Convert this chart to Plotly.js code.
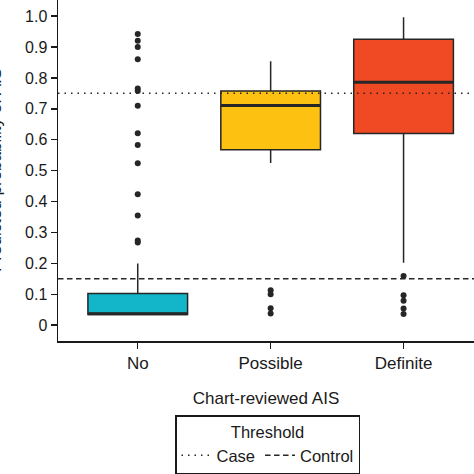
<!DOCTYPE html>
<html>
<head>
<meta charset="utf-8">
<script src="https://cdn.plot.ly/plotly-3.0.1.min.js"></script>
<style>
  html, body { margin: 0; padding: 0; background: #ffffff; }
  #chart { width: 474px; height: 474px; }
</style>
</head>
<body>
<div id="chart"></div>
<script>
// Chart-reviewed AIS groups
const categories = ['No', 'Possible', 'Definite'];

// Box summary statistics per group
const q1Values     = [0.035, 0.568, 0.620];
const medianValues = [0.037, 0.711, 0.786];
const q3Values     = [0.103, 0.758, 0.925];
const lowerFences  = [0.033, 0.525, 0.202];
const upperFences  = [0.200, 0.854, 0.996];

// Outlying predictions per group
const outliersNo       = [0.942, 0.920, 0.900, 0.860, 0.766, 0.758, 0.710, 0.621, 0.583, 0.524, 0.424, 0.355, 0.274, 0.268];
const outliersPossible = [0.113, 0.100, 0.055, 0.038];
const outliersDefinite = [0.159, 0.097, 0.079, 0.054, 0.036];

// Probability thresholds
const caseThreshold    = 0.75;
const controlThreshold = 0.15;

// Y-axis ticks
const yTickValues = [0, 0.1, 0.2, 0.3, 0.4, 0.5, 0.6, 0.7, 0.8, 0.9, 1.0];
const yTickLabels = ['0', '0.1', '0.2', '0.3', '0.4', '0.5', '0.6', '0.7', '0.8', '0.9', '1.0'];

const boxColors = ['#13b5c9', '#fdc111', '#ef4a23'];
const ink = '#262626';
const boxWidth = 0.75;
const FONT = 'Liberation Sans, Arial, sans-serif';
const TXT = '#1a1a1a';

const traces = [];

categories.forEach((cat, i) => {
  traces.push({
    type: 'box',
    x: [i],
    q1: [q1Values[i]],
    median: [medianValues[i]],
    q3: [q3Values[i]],
    lowerfence: [lowerFences[i]],
    upperfence: [upperFences[i]],
    width: boxWidth,
    whiskerwidth: 0,
    boxpoints: false,
    fillcolor: boxColors[i],
    line: { color: ink, width: 1.5 },
    showlegend: false,
    hoverinfo: 'skip'
  });
  // heavier median bar
  traces.push({
    type: 'scatter',
    mode: 'lines',
    x: [i - boxWidth / 2, i + boxWidth / 2],
    y: [medianValues[i], medianValues[i]],
    line: { color: ink, width: 3 },
    showlegend: false,
    hoverinfo: 'skip'
  });
});

const outlierGroups = [outliersNo, outliersPossible, outliersDefinite];
outlierGroups.forEach((vals, i) => {
  traces.push({
    type: 'scatter',
    mode: 'markers',
    x: vals.map(() => i),
    y: vals,
    marker: { color: ink, size: 6 },
    showlegend: false,
    hoverinfo: 'skip'
  });
});

const layout = {
  width: 474,
  height: 474,
  margin: { l: 58, r: 0, t: 0, b: 133, autoexpand: false },
  paper_bgcolor: '#ffffff',
  plot_bgcolor: '#ffffff',
  font: { family: FONT, color: TXT, size: 16 },
  xaxis: {
    range: [-0.6, 2.53],
    tickvals: [0, 1, 2],
    ticktext: categories,
    showgrid: false,
    zeroline: false,
    showline: true,
    linecolor: TXT,
    linewidth: 1.5,
    ticks: 'outside',
    ticklen: 6,
    tickwidth: 1.5,
    tickcolor: TXT,
    tickfont: { size: 17, family: FONT, color: TXT },
    title: { text: 'Chart-reviewed AIS', font: { size: 17, family: FONT, color: TXT }, standoff: 20 }
  },
  yaxis: {
    range: [-0.051, 1.052],
    tickvals: yTickValues,
    ticktext: yTickLabels,
    showgrid: false,
    zeroline: false,
    showline: true,
    linecolor: TXT,
    linewidth: 1.5,
    ticks: 'outside',
    ticklen: 6,
    tickwidth: 1.5,
    tickcolor: TXT,
    tickfont: { size: 16, family: FONT, color: TXT }
  },
  annotations: [{
    text: 'Predicted probability of AIS',
    xref: 'paper', yref: 'paper',
    x: (7 - 58) / 416, y: 0.5,
    xanchor: 'right', yanchor: 'middle',
    textangle: -90,
    showarrow: false,
    font: { size: 17, family: FONT, color: TXT }
  }],
  shapes: [
    {
      type: 'line', xref: 'paper', x0: 0, x1: 1, yref: 'y',
      y0: caseThreshold, y1: caseThreshold,
      line: { color: ink, width: 1.5, dash: '1.5px,5px' },
      name: 'Case', showlegend: true
    },
    {
      type: 'line', xref: 'paper', x0: 0, x1: 1, yref: 'y',
      y0: controlThreshold, y1: controlThreshold,
      line: { color: ink, width: 1.5, dash: '5.5px,3.5px' },
      name: 'Control', showlegend: true
    }
  ],
  showlegend: true,
  legend: {
    orientation: 'h',
    x: (175 - 58) / 416, xanchor: 'left',
    y: (341 - 415) / 341, yanchor: 'top',
    bgcolor: '#ffffff',
    bordercolor: TXT,
    borderwidth: 1.5,
    font: { size: 16.5, family: FONT, color: TXT },
    title: { text: 'Threshold', side: 'top center', font: { size: 16.5, family: FONT, color: TXT } }
  }
};

Plotly.newPlot('chart', traces, layout, { staticPlot: true, displayModeBar: false });
</script>
</body>
</html>
